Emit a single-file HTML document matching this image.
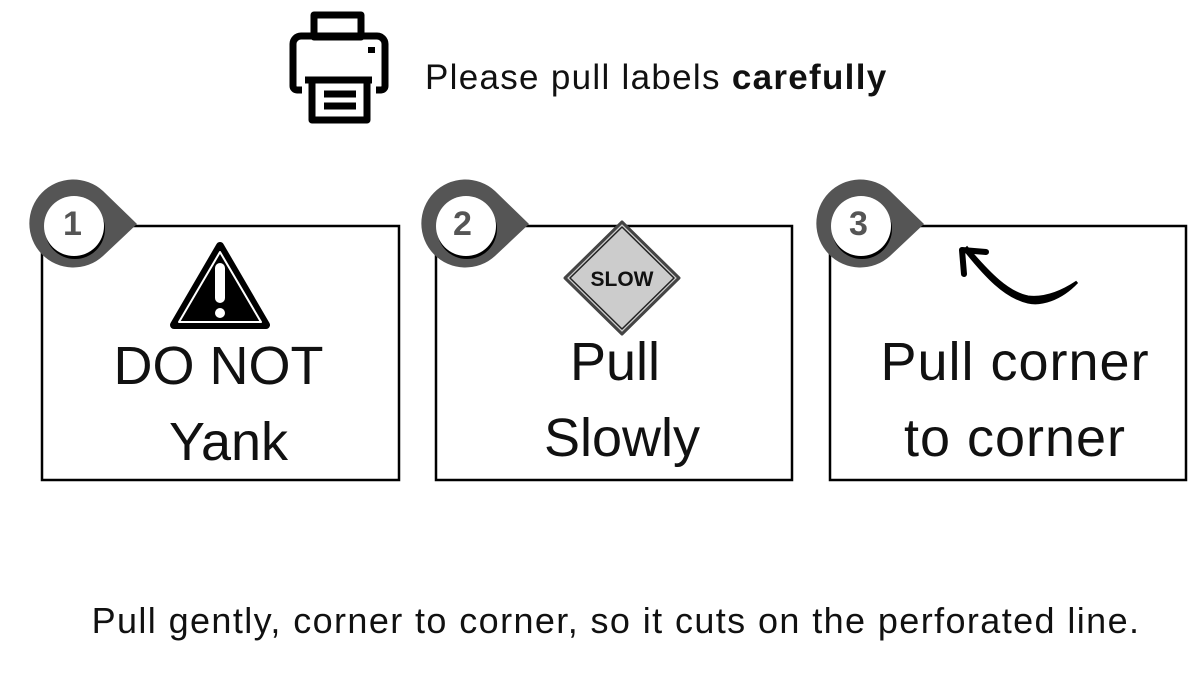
<!DOCTYPE html>
<html><head><style>
body{margin:0;width:1200px;height:690px;background:#fff;font-family:"Liberation Sans",sans-serif;overflow:hidden;position:relative}
.t{position:absolute;white-space:nowrap;color:#111}
</style></head><body>
<svg width="1200" height="690" style="position:absolute;left:0;top:0">
<g fill="none" stroke="#000" stroke-width="7" stroke-linejoin="round">
<rect x="314" y="15" width="47" height="22"/>
<path d="M302 90 h-5 a4 4 0 0 1 -4 -4 v-42 a8 8 0 0 1 8 -8 h76 a8 8 0 0 1 8 8 v42 a4 4 0 0 1 -4 4 h-5"/>
<path d="M305 80 h67"/>
<rect x="312" y="80" width="55" height="40"/>
<path d="M324 94 h32 M324 106 h32"/>
</g>
<rect x="368" y="47" width="7" height="6" fill="#000"/>
<g fill="none" stroke="#000" stroke-width="2.5">
<rect x="42" y="226" width="357" height="254"/>
<rect x="436" y="226" width="356" height="254"/>
<rect x="830" y="226" width="356" height="254"/>
</g>
<g id="b">
<path d="M103 191 L137 224 L103 256 A44 44 0 1 1 103 191 Z" fill="#555"/>
<circle cx="75" cy="229" r="30" fill="#000"/>
<circle cx="74" cy="226" r="30" fill="#fff"/>
</g>
<use href="#b" x="392"/>
<use href="#b" x="787"/>
<path d="M220 246 L266 325 H174 Z" fill="#000" stroke="#000" stroke-width="8" stroke-linejoin="round"/>
<path d="M220 252 L261 322 H179 Z" fill="none" stroke="#fff" stroke-width="2" stroke-linejoin="round"/>
<rect x="215" y="263" width="10" height="40" rx="5" fill="#fff"/>
<circle cx="220" cy="313" r="5" fill="#fff"/>
<path d="M622 222 L679 278 L622 334 L565 278 Z" fill="#ccc" stroke="#444" stroke-width="3" stroke-linejoin="round"/>
<path d="M622 227 L674 278 L622 329 L570 278 Z" fill="none" stroke="#222" stroke-width="1.5" stroke-linejoin="round"/>
<text x="622" y="286" text-anchor="middle" font-family="Liberation Sans" font-weight="bold" font-size="21" fill="#111">SLOW</text>
<path d="M1077 282 C1060 300 1040 305 1028 302 C1005 297 985 275 965 250 L967 248 C990 275 1008 293 1028 297 C1045 299 1062 292 1077 282 Z" fill="#000" stroke="#000" stroke-width="3"/>
<path d="M962 250 L964 274 M962 250 L986 252" stroke="#000" stroke-width="6" stroke-linecap="round"/>
</svg>
<div class="t" style="left:425px;top:58px;font-size:35px;letter-spacing:1.3px">Please pull labels <b>carefully</b></div>
<div class="t" style="left:63px;top:205px;font-size:34px;font-weight:bold;color:#555">1</div>
<div class="t" style="left:453px;top:205px;font-size:34px;font-weight:bold;color:#555">2</div>
<div class="t" style="left:849px;top:205px;font-size:34px;font-weight:bold;color:#555">3</div>
<div class="t" style="left:40px;width:357px;top:328px;font-size:54px;text-align:center;line-height:76px">DO NOT</div>
<div class="t" style="left:50px;width:357px;top:404px;font-size:54px;text-align:center;line-height:76px">Yank</div>
<div class="t" style="left:429px;width:372px;top:324px;font-size:54px;text-align:center;line-height:76px">Pull</div>
<div class="t" style="left:436px;width:372px;top:400px;font-size:54px;text-align:center;line-height:76px">Slowly</div>
<div class="t" style="left:830px;width:370px;top:324px;font-size:54px;text-align:center;line-height:76px;letter-spacing:1px">Pull corner<br>to corner</div>
<div class="t" style="left:0;width:1232px;top:600px;font-size:36px;text-align:center;letter-spacing:1.4px">Pull gently, corner to corner, so it cuts on the perforated line.</div>
</body></html>
